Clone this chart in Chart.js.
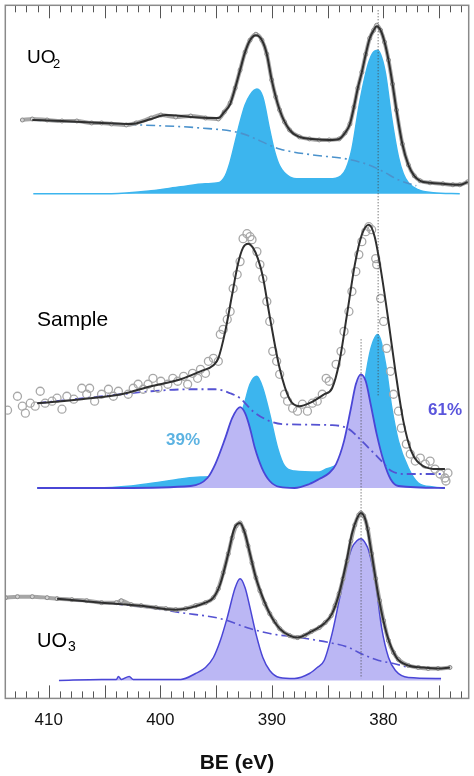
<!DOCTYPE html>
<html>
<head>
<meta charset="utf-8">
<script src="https://cdn.jsdelivr.net/npm/chart.js@4.4.1/dist/chart.umd.min.js"></script>
<style>
  html, body { margin: 0; padding: 0; background: #fff; }
  #wrap { width: 474px; height: 776px; }
</style>
</head>
<body>
<div id="wrap"><canvas id="xps" width="474" height="776"></canvas></div>
<script>
// U 4f spectra, binding energy (eV) vs intensity (arb. units, stacked)
var xTicks = [410, 400, 390, 380];
var peakLineBE = [380.47, 382.0];
var peakLineTop = [690, 360];
var peakLineBottom = [303, 20];

// --- UO2 reference ---
var uo2RawBE = [412.37,411.48,410.15,408.82,407.49,406.16,405.27,404.38,403.05,402.17,400.83,399.95,398.62,397.28,395.95,394.80,394.27,393.74,393.29,392.85,392.40,391.96,391.43,390.89,390.45,390.01,389.65,389.30,388.86,388.41,387.52,386.63,385.75,384.86,383.97,383.44,383.00,382.64,382.29,381.93,381.58,381.22,380.87,380.60,380.25,379.89,379.54,379.18,378.83,378.30,377.76,377.23,376.70,375.81,374.66,373.77,373.15,372.44];
var uo2RawY  = [580,581,580,579,579,577,577,576,575,577,582,585,583,584,582,581,588,597,612,630,648,660,666,660,646,620,603,590,578,570,563,561,560,560,561,567,576,593,612,628,646,662,670,675,670,658,640,616,590,556,535,524,519,517,516,515,515,518];
var uo2FitBE = [411.48,408.82,405.27,402.61,400.83,399.50,397.28,395.51,394.80,394.27,393.74,393.29,392.85,392.40,391.96,391.43,390.89,390.45,390.01,389.30,388.41,387.52,386.37,384.86,383.97,383.44,383.00,382.64,382.29,381.93,381.58,381.22,380.87,380.60,380.25,379.89,379.54,379.18,378.83,378.30,377.76,377.23,376.70,375.81,374.66,373.15,372.44];
var uo2FitY  = [580,579,577,576,581,585,583,582,582,588,596,612,630,648,660,665,660,646,620,590,570,563,561,560,561,567,576,593,612,628,646,662,670,674,670,658,640,616,590,556,535,524,519,517,516,515,518];
var uo2BgBE = [411.48,401.72,396.40,392.85,389.30,386.37,383.35,381.31,379.98,378.65,377.05];
var uo2BgY  = [580,575,572,567,551,545,541,535,528,520,514];
var uo2PeakBE = [411.39,404.38,400.83,398.17,395.95,394.80,394.18,393.74,393.29,392.85,392.40,391.96,391.34,390.81,390.19,389.74,389.30,388.41,387.52,384.86,383.80,383.35,382.82,382.20,381.76,381.31,380.96,380.51,380.16,379.80,379.27,378.65,378.21,377.76,376.87,375.54,373.15];
var uo2PeakY  = [506,506,509,513,516,517,524,538,558,578,595,605,611,603,570,548,534,523,521,521,524,531,551,593,618,638,647,650,643,626,583,543,526,517,510,507,506];
var uo2PeakBase = 506;

// --- Sample ---
var sampleRawBE = [413.70,412.81,412.37,412.10,411.66,411.22,410.77,410.33,409.71,409.26,408.82,408.38,407.76,407.04,406.60,406.34,405.89,405.27,404.65,404.21,403.76,402.88,402.43,401.99,401.54,401.10,400.66,400.21,399.95,399.33,398.88,398.44,397.91,397.55,397.11,396.66,396.40,395.95,395.69,395.24,394.80,394.62,394.36,394.00,393.74,393.47,393.11,392.85,392.58,392.23,391.96,391.78,391.34,391.07,390.81,390.45,390.19,389.92,389.57,389.30,388.86,388.59,388.14,387.70,387.26,386.81,386.37,385.93,385.48,385.13,384.86,384.24,383.80,383.53,383.09,382.82,382.47,382.20,381.93,381.58,381.31,381.05,380.69,380.60,380.25,379.98,379.71,379.36,379.09,378.65,378.39,377.94,377.59,377.14,376.69,376.25,375.81,375.37,374.92,374.48,374.21,374.39];
var sampleRawY  = [289,303,293,286,296,293,308,296,298,301,290,303,300,311,305,311,298,305,310,303,308,305,311,315,310,315,321,311,318,315,321,318,323,315,326,321,330,326,338,341,338,365,370,380,388,411,425,438,461,466,463,460,448,435,421,398,378,348,338,325,305,298,291,288,295,288,296,298,305,321,318,335,348,368,388,408,428,445,458,468,473,470,441,435,401,378,351,328,305,288,271,255,245,238,241,235,238,230,225,221,226,218];
var sampleFitBE = [411.04,407.04,403.50,400.83,398.17,396.40,395.24,394.80,394.18,393.56,393.03,392.58,392.14,391.70,391.25,390.81,390.19,389.30,388.41,387.52,386.63,385.31,384.60,383.97,383.26,382.56,381.93,381.31,380.78,380.16,379.54,378.92,378.21,377.50,376.43,375.10,374.48];
var sampleFitY  = [296,300,305,313,320,328,334,341,368,405,436,452,456,452,441,423,383,331,300,293,296,305,311,336,385,435,465,475,463,425,378,328,278,248,233,230,230];
var sampleBgBE = [411.04,403.50,400.83,397.28,395.07,393.74,392.85,391.70,390.19,389.03,384.60,383.09,381.93,380.42,379.27,378.03,374.83];
var sampleBgY  = [296,305,308,310,310,306,301,288,278,275,274,270,258,241,228,225,225];
var sampleUO2BE = [411.04,405.71,402.61,399.95,398.17,396.40,394.80,393.74,393.03,392.40,391.96,391.34,390.81,390.19,389.48,388.86,387.97,385.75,385.13,383.97,382.64,381.76,381.14,380.51,379.80,379.27,378.65,377.76,376.87,375.54,374.48];
var sampleUO2Y  = [211,211,213,217,220,222,223,243,273,298,315,323,311,285,251,233,228,227,230,236,263,313,350,365,335,293,258,231,216,212,211];
var sampleUO3BE = [411.04,403.50,397.28,395.78,395.07,394.18,393.56,392.85,392.40,391.96,391.52,390.89,390.19,389.30,387.97,386.63,385.75,384.86,384.24,383.53,382.91,382.47,382.02,381.58,381.14,380.60,379.98,379.36,378.65,374.48];
var sampleUO3Y  = [211,211,213,221,235,261,281,292,286,271,251,231,218,212,211,215,220,226,235,258,291,315,325,318,295,265,238,220,213,211];
var samplePeakBase = 211;

// --- UO3 reference ---
var uo3RawBE = [413.88,412.81,411.48,410.15,409.26,407.93,406.60,405.27,403.94,403.50,402.61,401.72,400.39,399.50,398.62,397.73,396.84,395.95,395.24,394.80,394.36,393.91,393.56,393.20,392.85,392.49,392.14,391.78,391.43,391.07,390.63,390.19,389.74,389.30,388.41,387.70,387.08,386.46,385.75,385.22,384.68,384.33,383.97,383.62,383.26,382.91,382.56,382.20,382.02,381.76,381.40,381.05,380.69,380.34,379.98,379.54,379.09,378.65,377.76,376.87,375.98,375.10,374.03];
var uo3RawY  = [101,102,102,101,100,99,98,96,96,98,94,93,91,90,89,90,93,96,101,110,126,145,161,173,176,168,153,136,121,108,95,85,77,70,63,61,63,67,71,76,83,93,105,120,138,158,174,184,186,183,170,145,120,98,78,58,46,39,33,31,30,30,31];
var uo3FitBE = [409.26,405.27,401.72,398.62,397.28,395.95,395.24,394.62,393.91,393.38,392.85,392.40,391.96,391.43,390.81,390.19,389.30,388.41,387.70,386.63,385.31,384.60,383.97,383.35,382.82,382.38,382.02,381.58,381.05,380.42,379.71,378.83,377.76,376.43,375.10,374.03];
var uo3FitY  = [100,96,93,89,91,96,101,115,145,170,176,165,145,121,101,85,70,63,61,66,75,85,105,135,165,180,186,178,145,101,65,41,33,31,30,31];
var uo3BgBE = [409.26,405.27,401.72,398.17,394.62,391.96,390.19,387.52,384.86,383.09,382.02,380.42,379.09,377.76];
var uo3BgY  = [100,96,92,86,80,70,65,61,56,51,45,38,35,31];
var uo3PeakBE = [409.09,405.27,403.94,403.76,403.50,402.79,402.43,398.17,396.84,395.95,395.24,394.62,394.00,393.29,392.85,392.40,391.96,391.43,390.81,390.19,389.30,387.97,386.63,385.93,385.31,384.60,383.97,383.35,382.82,382.38,382.02,381.58,381.31,380.69,380.16,379.54,378.92,377.76,374.83];
var uo3PeakY  = [18,19,19,22,19,22,19,19,25,31,41,58,81,111,120,111,91,65,41,28,21,20,25,31,38,65,98,131,151,158,160,155,148,115,71,41,28,21,20];
var uo3PeakBase = 18;

function pts(xs, ys) {
  return xs.map(function(x, i) { return {x: x, y: ys[i]}; });
}

var BLUE = '#3cb5ee';
var LAV = '#bbb7f4';
var PURPLE = '#4a46d6';
var FIT = '#2f2f2f';
var RAWGREY = 'rgba(150,150,150,0.85)';

function curve(xs, ys, color, width, order, extra) {
  var ds = {
    data: pts(xs, ys), borderColor: color, borderWidth: width, pointRadius: 0,
    cubicInterpolationMode: 'monotone', fill: false, order: order
  };
  for (var k in (extra || {})) ds[k] = extra[k];
  return ds;
}

var datasets = [
  // UO2
  curve(uo2PeakBE, uo2PeakY, BLUE, 1.5, 20, {fill: {value: uo2PeakBase}, backgroundColor: BLUE}),
  curve(uo2BgBE, uo2BgY, '#4b92cc', 1.6, 8, {borderDash: [9, 4, 2, 4]}),
  curve(uo2RawBE, uo2RawY, RAWGREY, 4, 6, {pointRadius: 2, pointBorderColor: '#8a8a8a', pointBackgroundColor: 'rgba(210,210,210,1)', pointBorderWidth: 1}),
  curve(uo2FitBE, uo2FitY, FIT, 2, 3),
  // Sample
  curve(sampleUO2BE, sampleUO2Y, BLUE, 1.5, 20, {fill: {value: samplePeakBase}, backgroundColor: BLUE}),
  curve(sampleUO3BE, sampleUO3Y, PURPLE, 1.8, 18, {fill: {value: samplePeakBase}, backgroundColor: LAV}),
  curve(sampleBgBE, sampleBgY, '#5552d2', 1.8, 8, {borderDash: [9, 4, 2, 4]}),
  {data: pts(sampleRawBE, sampleRawY), showLine: false, pointRadius: 4, pointBorderWidth: 1.3,
   pointBorderColor: '#a8a8a8', pointBackgroundColor: 'rgba(255,255,255,0)', order: 6},
  curve(sampleFitBE, sampleFitY, FIT, 2, 3),
  // UO3
  curve(uo3PeakBE, uo3PeakY, PURPLE, 1.5, 18, {fill: {value: uo3PeakBase}, backgroundColor: LAV}),
  curve(uo3BgBE, uo3BgY, '#5552d2', 1.6, 8, {borderDash: [9, 4, 2, 4]}),
  curve(uo3RawBE, uo3RawY, RAWGREY, 4, 6, {pointRadius: 2, pointBorderColor: '#8a8a8a', pointBackgroundColor: 'rgba(210,210,210,1)', pointBorderWidth: 1}),
  curve(uo3FitBE, uo3FitY, FIT, 2, 3)
];

// dotted peak-position markers
peakLineBE.forEach(function(be, i) {
  datasets.push({data: [{x: be, y: peakLineTop[i]}, {x: be, y: peakLineBottom[i]}],
    borderColor: '#444', borderWidth: 1, borderDash: [1, 2], pointRadius: 0, fill: false, order: 1});
});

var FONT = '"Liberation Sans", Arial, sans-serif';

var framePlugin = {
  id: 'frame',
  afterDraw: function(chart) {
    var ctx = chart.ctx, a = chart.chartArea, xs = chart.scales.x;
    ctx.save();
    // minor / major ticks, inward, top and bottom
    ctx.strokeStyle = '#555';
    ctx.lineWidth = 1;
    for (var v = 373; v <= 413; v++) {
      var px = Math.round(xs.getPixelForValue(v)) + 0.5;
      var len = (v % 5 === 0) ? 13 : 7;
      ctx.beginPath();
      ctx.moveTo(px, a.bottom); ctx.lineTo(px, a.bottom - len);
      ctx.moveTo(px, a.top); ctx.lineTo(px, a.top + len);
      ctx.stroke();
    }
    ctx.strokeStyle = '#8a8a8a';
    ctx.lineWidth = 1.5;
    ctx.strokeRect(a.left, a.top, a.right - a.left, a.bottom - a.top);

    // panel labels
    ctx.fillStyle = '#000';
    ctx.textBaseline = 'alphabetic';
    ctx.font = '19px ' + FONT;
    ctx.fillText('UO', 27, 63);
    ctx.font = '13px ' + FONT;
    ctx.fillText('2', 53, 68);
    ctx.font = '21px ' + FONT;
    ctx.fillText('Sample', 37, 326);
    ctx.font = '20px ' + FONT;
    ctx.fillText('UO', 37, 647);
    ctx.font = '14px ' + FONT;
    ctx.fillText('3', 68, 651);
    ctx.font = 'bold 17px ' + FONT;
    ctx.fillStyle = '#5db3e2';
    ctx.fillText('39%', 166, 445);
    ctx.fillStyle = '#5a55dc';
    ctx.fillText('61%', 428, 415);
    ctx.restore();
  }
};

new Chart(document.getElementById('xps'), {
  type: 'line',
  data: {datasets: datasets},
  options: {
    responsive: false,
    animation: false,
    devicePixelRatio: 1,
    layout: {padding: {left: 3, right: 3, top: 3, bottom: 0}},
    plugins: {legend: {display: false}, tooltip: {enabled: false}},
    elements: {line: {tension: 0}},
    scales: {
      x: {
        type: 'linear', reverse: true, min: 372.35, max: 413.9,
        grid: {display: false},
        border: {display: false},
        afterBuildTicks: function(scale) {
          scale.ticks = xTicks.map(function(v) { return {value: v}; });
        },
        ticks: {color: '#111', padding: 4, font: {size: 17, family: FONT}},
        title: {display: true, text: 'BE (eV)', color: '#111',
                font: {size: 21, weight: 'bold', family: FONT}, padding: {top: 16, bottom: 0}}
      },
      y: {display: false, min: 0, max: 695}
    }
  },
  plugins: [framePlugin]
});
</script>
</body>
</html>
